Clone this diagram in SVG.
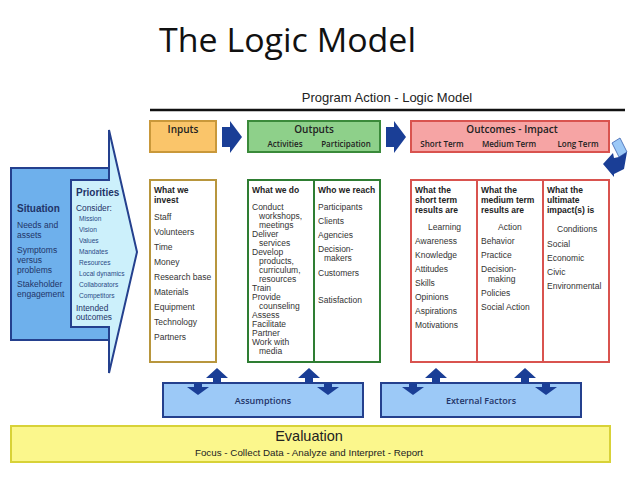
<svg xmlns="http://www.w3.org/2000/svg" width="638" height="478" viewBox="0 0 638 478">
<style>
  .t{font-family:"Liberation Sans",Arial,sans-serif;font-size:8.5px;fill:#333}
  .b{font-weight:bold;fill:#222}
  .h{font-family:"Open Sans","Noto Sans",sans-serif;font-weight:600;fill:#222}
  .sit{font-family:"Liberation Sans",Arial,sans-serif;fill:#1F3468}
  .pri{font-family:"Liberation Sans",Arial,sans-serif;fill:#2B4A86}
  .arr{fill:#1A3E96}
</style>
<rect width="638" height="478" fill="#fff"/>
<text x="159" y="52" font-family="'Open Sans','Noto Sans',sans-serif" font-size="32" fill="#111" textLength="257" lengthAdjust="spacingAndGlyphs">The Logic Model</text>
<text x="387" y="102" text-anchor="middle" font-family="'Liberation Sans',Arial,sans-serif" font-size="13" fill="#222">Program Action - Logic Model</text>
<line x1="150" y1="110" x2="625" y2="110" stroke="#111" stroke-width="2.5"/>

<g id="situation">
  <rect x="11" y="168" width="98" height="172" fill="#6EB0EC" stroke="#24408E" stroke-width="2"/>
  <text class="sit" x="17" y="212" font-size="10" font-weight="bold">Situation</text>
  <text class="sit" font-size="8.5"><tspan x="17" y="228">Needs and</tspan><tspan x="17" y="238">assets</tspan><tspan x="17" y="253">Symptoms</tspan><tspan x="17" y="263">versus</tspan><tspan x="17" y="273">problems</tspan><tspan x="17" y="287">Stakeholder</tspan><tspan x="17" y="297">engagement</tspan></text>
</g>
<g id="priorities">
  <path d="M71,180 H109 V130 L137,252 L109,373 V327 H71 Z" fill="#CCF0FB" stroke="#24408E" stroke-width="2" stroke-linejoin="miter"/>
  <text class="sit" x="76" y="196" font-size="10" font-weight="bold">Priorities</text>
  <text class="sit" x="76" y="211" font-size="8.4">Consider:</text>
  <text class="pri" font-size="6.6"><tspan x="79" y="221">Mission</tspan><tspan x="79" y="232">Vision</tspan><tspan x="79" y="243">Values</tspan><tspan x="79" y="254">Mandates</tspan><tspan x="79" y="265">Resources</tspan><tspan x="79" y="276">Local dynamics</tspan><tspan x="79" y="287">Collaborators</tspan><tspan x="79" y="298">Competitors</tspan></text>
  <text class="sit" font-size="8.3"><tspan x="76" y="311">Intended</tspan><tspan x="76" y="320">outcomes</tspan></text>
</g>

<g id="inputs-header">
  <rect x="150" y="121" width="66" height="31" fill="#FAC56A" stroke="#C9983A" stroke-width="2"/>
  <text class="h" x="183" y="133" text-anchor="middle" font-size="10">Inputs</text>
</g>
<g id="outputs-header">
  <rect x="248" y="121" width="132" height="31" fill="#8ED08A" stroke="#3A8A3A" stroke-width="2"/>
  <text class="h" x="314" y="133" text-anchor="middle" font-size="10">Outputs</text>
  <text class="h" x="285" y="147" text-anchor="middle" font-size="8" font-weight="400">Activities</text>
  <text class="h" x="346" y="147" text-anchor="middle" font-size="8" font-weight="400">Participation</text>
</g>
<g id="outcomes-header">
  <rect x="411" y="121" width="198" height="31" fill="#F6A4A4" stroke="#D9534F" stroke-width="2"/>
  <text class="h" x="512" y="133" text-anchor="middle" font-size="10">Outcomes - Impact</text>
  <text class="h" x="442" y="147" text-anchor="middle" font-size="8" font-weight="400">Short Term</text>
  <text class="h" x="509" y="147" text-anchor="middle" font-size="8" font-weight="400">Medium Term</text>
  <text class="h" x="578" y="147" text-anchor="middle" font-size="8" font-weight="400">Long Term</text>
</g>

<g id="inputs">
  <rect x="150" y="180" width="66" height="182" fill="#fff" stroke="#B8963D" stroke-width="2"/>
  <text class="t b" font-size="8"><tspan x="154" y="193">What we</tspan><tspan x="154" y="203">invest</tspan></text>
  <text class="t"><tspan x="154" y="220">Staff</tspan><tspan x="154" y="235">Volunteers</tspan><tspan x="154" y="250">Time</tspan><tspan x="154" y="265">Money</tspan><tspan x="154" y="280">Research base</tspan><tspan x="154" y="295">Materials</tspan><tspan x="154" y="310">Equipment</tspan><tspan x="154" y="325">Technology</tspan><tspan x="154" y="340">Partners</tspan></text>
</g>

<g id="outputs">
  <rect x="248" y="180" width="132" height="182" fill="#fff" stroke="#2E7D32" stroke-width="2"/>
  <line x1="314" y1="180" x2="314" y2="362" stroke="#2E7D32" stroke-width="2"/>
  <text class="t b" font-size="8" x="252" y="193">What we do</text>
  <text class="t b" font-size="8" x="318" y="193">Who we reach</text>
  <text class="t"><tspan x="252" y="210">Conduct</tspan><tspan x="259" y="219">workshops,</tspan><tspan x="259" y="228">meetings</tspan><tspan x="252" y="237">Deliver</tspan><tspan x="259" y="246">services</tspan><tspan x="252" y="255">Develop</tspan><tspan x="259" y="264">products,</tspan><tspan x="259" y="273">curriculum,</tspan><tspan x="259" y="282">resources</tspan><tspan x="252" y="291">Train</tspan><tspan x="252" y="300">Provide</tspan><tspan x="259" y="309">counseling</tspan><tspan x="252" y="318">Assess</tspan><tspan x="252" y="327">Facilitate</tspan><tspan x="252" y="336">Partner</tspan><tspan x="252" y="345">Work with</tspan><tspan x="259" y="354">media</tspan></text>
  <text class="t"><tspan x="318" y="210">Participants</tspan><tspan x="318" y="224">Clients</tspan><tspan x="318" y="238">Agencies</tspan><tspan x="318" y="252">Decision-</tspan><tspan x="324" y="261">makers</tspan><tspan x="318" y="276">Customers</tspan><tspan x="318" y="303">Satisfaction</tspan></text>
</g>

<g id="outcomes">
  <rect x="411" y="180" width="198" height="182" fill="#fff" stroke="#D9534F" stroke-width="2"/>
  <line x1="477" y1="180" x2="477" y2="362" stroke="#D9534F" stroke-width="2"/>
  <line x1="543" y1="180" x2="543" y2="362" stroke="#D9534F" stroke-width="2"/>
  <text class="t b" font-size="8"><tspan x="415" y="193">What the</tspan><tspan x="415" y="203">short term</tspan><tspan x="415" y="213">results are</tspan></text>
  <text class="t b" font-size="8"><tspan x="481" y="193">What the</tspan><tspan x="481" y="203">medium term</tspan><tspan x="481" y="213">results are</tspan></text>
  <text class="t b" font-size="8"><tspan x="547" y="193">What the</tspan><tspan x="547" y="203">ultimate</tspan><tspan x="547" y="213">impact(s) is</tspan></text>
  <text class="t"><tspan x="428" y="230">Learning</tspan><tspan x="415" y="244">Awareness</tspan><tspan x="415" y="258">Knowledge</tspan><tspan x="415" y="272">Attitudes</tspan><tspan x="415" y="286">Skills</tspan><tspan x="415" y="300">Opinions</tspan><tspan x="415" y="314">Aspirations</tspan><tspan x="415" y="328">Motivations</tspan></text>
  <text class="t"><tspan x="498" y="230">Action</tspan><tspan x="481" y="244">Behavior</tspan><tspan x="481" y="258">Practice</tspan><tspan x="481" y="272">Decision-</tspan><tspan x="488" y="282">making</tspan><tspan x="481" y="296">Policies</tspan><tspan x="481" y="310">Social Action</tspan></text>
  <text class="t"><tspan x="557" y="232">Conditions</tspan><tspan x="547" y="247">Social</tspan><tspan x="547" y="261">Economic</tspan><tspan x="547" y="275">Civic</tspan><tspan x="547" y="289">Environmental</tspan></text>
</g>

<g id="assumptions">
  <rect x="163" y="383" width="200" height="34" fill="#9CC9F7" stroke="#24408E" stroke-width="2"/>
  <text class="h" x="263" y="404" text-anchor="middle" font-size="9" style="fill:#1F3468">Assumptions</text>
</g>
<g id="external-factors">
  <rect x="381" y="383" width="200" height="34" fill="#9CC9F7" stroke="#24408E" stroke-width="2"/>
  <text class="h" x="481" y="404" text-anchor="middle" font-size="9" style="fill:#1F3468">External Factors</text>
</g>
<g id="evaluation">
  <rect x="11" y="426" width="599" height="36" fill="#FBF78C" stroke="#D8D238" stroke-width="2"/>
  <text x="309" y="441" text-anchor="middle" font-family="'Liberation Sans',Arial,sans-serif" font-size="14.5" fill="#222">Evaluation</text>
  <text x="309" y="456" text-anchor="middle" font-family="'Liberation Sans',Arial,sans-serif" font-size="9.8" fill="#222">Focus - Collect Data - Analyze and Interpret - Report</text>
</g>

<g id="connectors">
  <defs>
    <path id="rarr" d="M0,-10 H8 V-16 L20,0 L8,16 V10 H0 Z"/>
    <path id="uarr" d="M-4,10 V5 H-11 L0,-5 L11,5 H4 V10 Z"/>
    <path id="darr" d="M-4,0 V4 H-11 L0,12 L11,4 H4 V0 Z"/>
  </defs>
  <use href="#rarr" class="arr" x="222" y="137"/>
  <use href="#rarr" class="arr" x="386" y="137"/>
  <polygon points="612,143 620,138 627,152 619,157" fill="#9CC9F7" stroke="#3B62B0" stroke-width="0.8"/>
  <polygon points="619,157 627,152 624,169 614,174 614,177 603,164 613,153 614,158" class="arr"/>
  <use href="#uarr" class="arr" x="217" y="373"/>
  <use href="#darr" class="arr" x="198" y="383"/>
  <use href="#uarr" class="arr" x="309" y="373"/>
  <use href="#darr" class="arr" x="328" y="383"/>
  <use href="#uarr" class="arr" x="436" y="373"/>
  <use href="#darr" class="arr" x="413" y="383"/>
  <use href="#uarr" class="arr" x="525" y="373"/>
  <use href="#darr" class="arr" x="546" y="383"/>
</g>
</svg>
